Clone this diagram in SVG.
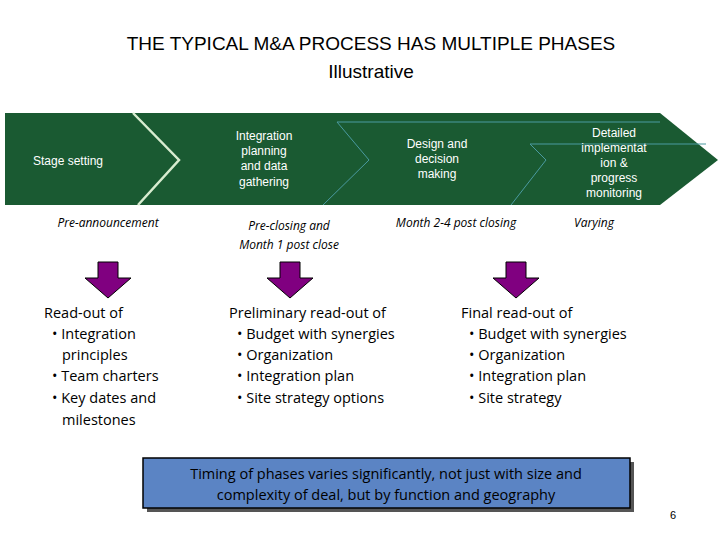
<svg xmlns="http://www.w3.org/2000/svg" width="720" height="540" viewBox="0 0 720 540">
<style>
.t{font-family:"Liberation Sans",Arial,sans-serif;fill:#000}
.w{font-family:"Liberation Sans Narrow","Liberation Sans",sans-serif;fill:#fff;font-size:12px;text-anchor:middle}
.i{font-family:"Open Sans","Liberation Sans",sans-serif;font-style:italic;font-size:12px;fill:#000}
.b{font-family:"Open Sans","Liberation Sans",sans-serif;font-size:14.5px;fill:#000}
.arr{fill:#800080;stroke:#000;stroke-width:1}
</style>
<rect width="720" height="540" fill="#fff"/>
<text class="t" x="371" y="50" font-size="19" text-anchor="middle">THE TYPICAL M&amp;A PROCESS HAS MULTIPLE PHASES</text>
<text class="t" x="371" y="78" font-size="19" text-anchor="middle">Illustrative</text>
<g id="band">
<polygon points="5,113 660,113 718,160 660,205 5,205" fill="#1a5a32"/>
<polyline points="133,113 179,160 138,205" fill="none" stroke="#d8ecd0" stroke-width="2.5"/>
<polyline points="660,122 337,122 369,160 323,205" fill="none" stroke="#4a9aa0" stroke-width="1"/>
<polyline points="706,144 530,144 546,160 511,205" fill="none" stroke="#4a9aa0" stroke-width="1"/>
</g>
<g id="phase1"><text class="w" x="68" y="165">Stage setting</text>
<text class="i" x="108" y="227" text-anchor="middle">Pre-announcement</text></g>
<g id="phase2"><text class="w" x="264" y="140">Integration</text><text class="w" x="264" y="155">planning</text><text class="w" x="264" y="170">and data</text><text class="w" x="264" y="186">gathering</text>
<text class="i" x="289" y="230" text-anchor="middle" font-size="14">Pre-closing and</text><text class="i" x="289" y="249" text-anchor="middle" font-size="14">Month 1 post close</text></g>
<g id="phase3"><text class="w" x="437" y="148">Design and</text><text class="w" x="437" y="163">decision</text><text class="w" x="437" y="178">making</text>
<text class="i" x="456" y="227" text-anchor="middle">Month 2-4 post closing</text></g>
<g id="phase4"><text class="w" x="614" y="137">Detailed</text><text class="w" x="614" y="152">implementat</text><text class="w" x="614" y="167">ion &amp;</text><text class="w" x="614" y="182">progress</text><text class="w" x="614" y="197">monitoring</text>
<text class="i" x="594" y="227" text-anchor="middle">Varying</text></g>
<g id="arrows">
<polygon class="arr" points="98,262 118,262 118,278 131,278 108,298 85,278 98,278"/>
<polygon class="arr" points="280,262 300,262 300,278 313,278 290,298 267,278 280,278"/>
<polygon class="arr" points="506,262 526,262 526,278 539,278 516,298 493,278 506,278"/>
</g>
<g id="out1"><text class="b" x="44" y="318">Read-out of</text><text class="b" x="52" y="339">• Integration</text><text class="b" x="62" y="360">principles</text><text class="b" x="52" y="381">• Team charters</text><text class="b" x="52" y="403">• Key dates and</text><text class="b" x="62" y="425">milestones</text></g>
<g id="out2"><text class="b" x="229" y="318">Preliminary read-out of</text><text class="b" x="237" y="339">• Budget with synergies</text><text class="b" x="237" y="360">• Organization</text><text class="b" x="237" y="381">• Integration plan</text><text class="b" x="237" y="403">• Site strategy options</text></g>
<g id="out3"><text class="b" x="461" y="318">Final read-out of</text><text class="b" x="469" y="339">• Budget with synergies</text><text class="b" x="469" y="360">• Organization</text><text class="b" x="469" y="381">• Integration plan</text><text class="b" x="469" y="403">• Site strategy</text></g>
<g id="note">
<rect x="147" y="462" width="487" height="50" fill="#555"/>
<rect x="143" y="458" width="487" height="50" fill="#5b84c4" stroke="#000" stroke-width="1.5"/>
<text class="b" x="386" y="479" text-anchor="middle">Timing of phases varies significantly, not just with size and</text>
<text class="b" x="386" y="500" text-anchor="middle">complexity of deal, but by function and geography</text>
</g>
<text class="t" x="673" y="519" font-size="11" fill="#333" text-anchor="middle">6</text>
</svg>
